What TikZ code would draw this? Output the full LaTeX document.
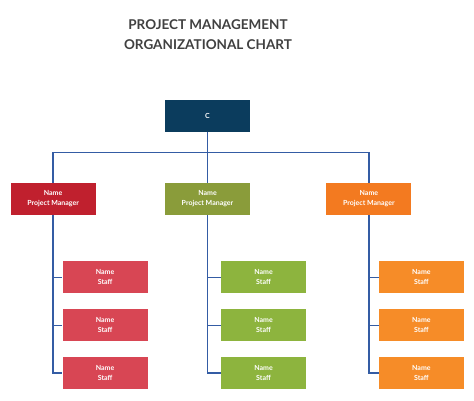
\documentclass[tikz,border=0pt]{standalone}
\usepackage{fontspec}
\setmainfont{Lato}
\usetikzlibrary{positioning, calc}
\definecolor{topblue}{RGB}{11,60,93}
\definecolor{pmred}{RGB}{192,32,46}
\definecolor{stred}{RGB}{216,70,84}
\definecolor{pmgreen}{RGB}{138,156,58}
\definecolor{stgreen}{RGB}{141,180,62}
\definecolor{pmorange}{RGB}{243,122,32}
\definecolor{storange}{RGB}{246,140,40}
\definecolor{linkblue}{RGB}{52,92,164}
\definecolor{titlegray}{RGB}{64,64,64}
\begin{document}
\begin{tikzpicture}[
        x=1pt, y=-1pt,
        box/.style={rectangle, minimum width=85pt, minimum height=32pt, align=center, text=white, font=\fontsize{7}{10}\selectfont\bfseries, inner sep=0pt},
        link/.style={draw=linkblue, line width=1.4pt}
    ]
        \useasboundingbox (0,0) rectangle (474,400);

        \node[font=\fontsize{13.5}{20}\selectfont\bfseries, text=titlegray, align=center] (TITLE) at (208,35) {PROJECT MANAGEMENT\\ORGANIZATIONAL CHART};

        \node[box, fill=topblue] (TOP) at (207.5,115.5) {C};

        \node[box, fill=pmgreen, below=51pt of TOP] (PMG) {Name\\Project Manager};
        \node[box, fill=pmred, left=69pt of PMG] (PMR) {Name\\Project Manager};
        \node[box, fill=pmorange, right=76pt of PMG] (PMO) {Name\\Project Manager};

        % staff
        \node[box, fill=stred, below=46pt of PMR, xshift=52pt] (SR1) {Name\\Staff};
        \node[box, fill=stred, below=15.5pt of SR1] (SR2) {Name\\Staff};
        \node[box, fill=stred, below=15.5pt of SR2] (SR3) {Name\\Staff};
        \node[box, fill=stgreen, below=46pt of PMG, xshift=56pt] (SG1) {Name\\Staff};
        \node[box, fill=stgreen, below=15.5pt of SG1] (SG2) {Name\\Staff};
        \node[box, fill=stgreen, below=15.5pt of SG2] (SG3) {Name\\Staff};
        \node[box, fill=storange, below=46pt of PMO, xshift=52.5pt] (SO1) {Name\\Staff};
        \node[box, fill=storange, below=15.5pt of SO1] (SO2) {Name\\Staff};
        \node[box, fill=storange, below=15.5pt of SO2] (SO3) {Name\\Staff};

        \coordinate (BUS) at ($(TOP.south)!0.41!(PMG.north)$);
        \draw[link] (TOP.south) -- (PMG.north);
        \draw[link] (PMR.north) |- (BUS) -| (PMO.north);

        \foreach \pm/\s in {PMR/SR, PMG/SG, PMO/SO} {
            \draw[link] (\pm.south) |- (\s3.west);
            \draw[link] (\pm.south |- \s1.west) -- (\s1.west);
            \draw[link] (\pm.south |- \s2.west) -- (\s2.west);
        }
    \end{tikzpicture}
\end{document}
